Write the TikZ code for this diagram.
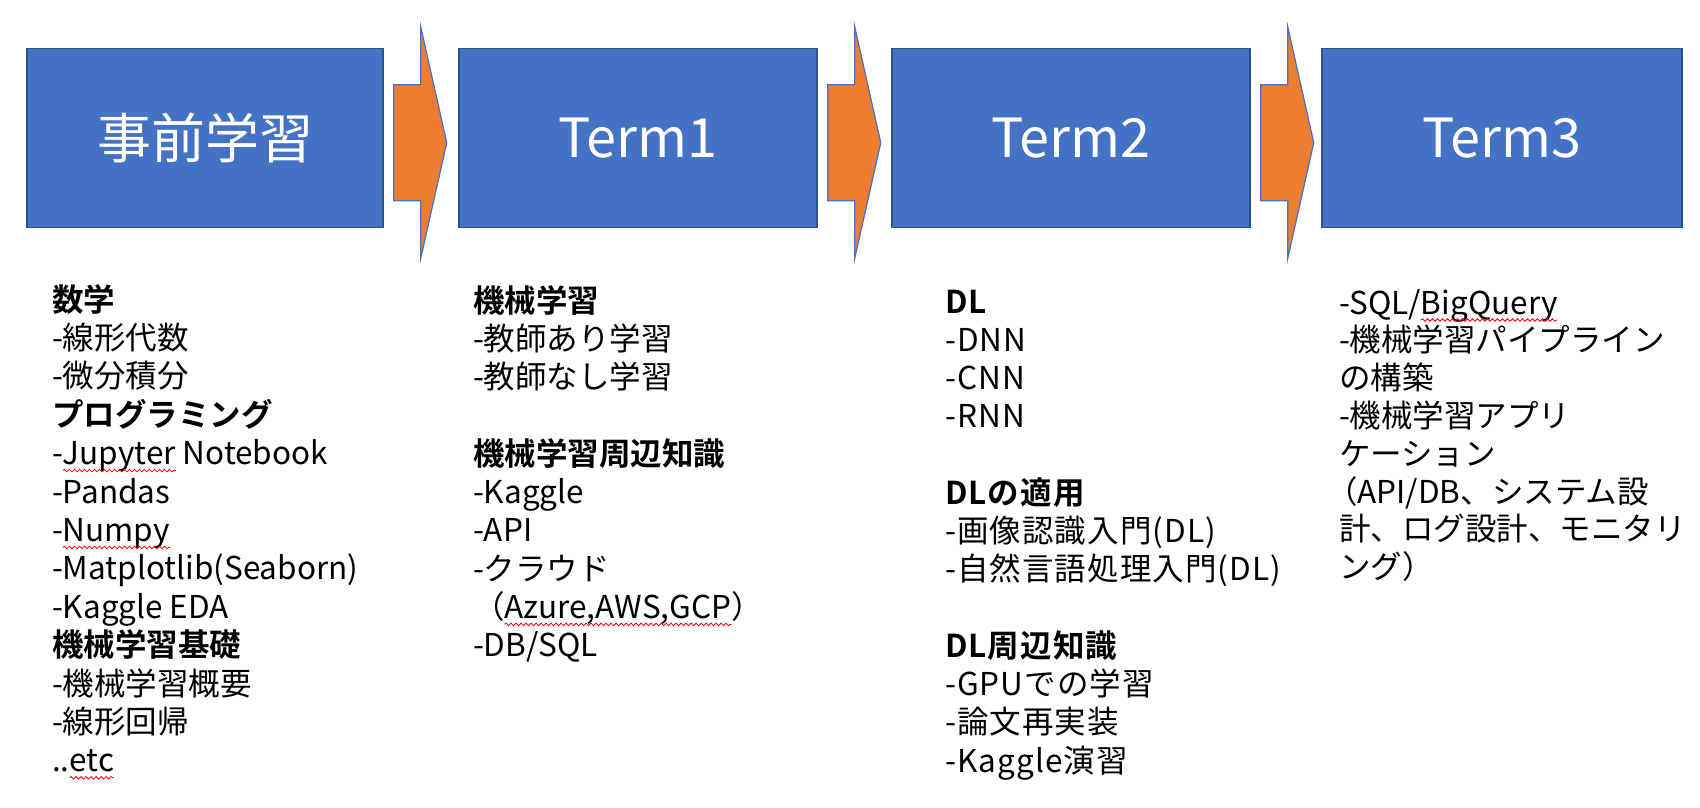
\documentclass[tikz,border=0pt]{standalone}
\usepackage{fontspec}
\setmainfont{Noto Sans CJK JP}[BoldFont={Noto Sans CJK JP Bold}]
\newfontfamily\widejp{Noto Sans CJK JP}[LetterSpace=3.5, BoldFont={Noto Sans CJK JP Bold}]
\usetikzlibrary{decorations.pathmorphing,calc}
\definecolor{boxblue}{HTML}{4472C4}
\definecolor{boxedge}{HTML}{2F528F}
\definecolor{arroworange}{HTML}{ED7D31}
\begin{document}
\begin{tikzpicture}[x=1pt,y=-1pt,
  stagebox/.style={draw=boxedge, line width=1.5pt, fill=boxblue, text=white,
    font=\fontsize{54}{60}\selectfont, inner sep=0pt, minimum height=179pt},
  blockarrow/.style={draw=boxblue, line width=1.2pt, fill=arroworange, line join=miter},
  pics/stagearrow/.style={code={
    \draw[blockarrow] (0,-58) -- (27,-58) -- (27,-116) -- (53,0) -- (27,115.5) -- (27,58) -- (0,58) -- cycle;}},
  ln/.style={anchor=base west, inner sep=0pt, outer sep=0pt, font=\fontsize{31.5}{36}\selectfont},
  hd/.style={ln, font=\fontsize{31.5}{36}\selectfont\bfseries},
  wln/.style={ln, font=\widejp\fontsize{31.5}{36}\selectfont},
  whd/.style={ln, font=\widejp\fontsize{31.5}{36}\selectfont\bfseries},
  squig/.style={draw=red, line width=0.8pt, decorate,
    decoration={snake, amplitude=1.3pt, segment length=5pt}}
]
\fill[white] (0,0) rectangle (1700,808);
\useasboundingbox (0,0) rectangle (1700,808);

% stage boxes
\node[stagebox, minimum width=356pt] (b1) at (205,137.8) {事前学習};
\node[stagebox, minimum width=358pt] (b2) at (638,137.8) {Term1};
\node[stagebox, minimum width=358pt] (b3) at (1071,137.8) {Term2};
\node[stagebox, minimum width=360pt] (b4) at (1502,137.8) {Term3};

% block arrows
\pic at ($(b1.east)+(10,5)$) {stagearrow};
\pic at ($(b2.east)+(10,5)$) {stagearrow};
\pic at ($(b3.east)+(10,5)$) {stagearrow};

% column 1
\node[hd] (a0) at (52,{311+38.4*0}) {数学};
\node[ln] (a1) at (52,{311+38.4*1}) {-線形代数};
\node[ln] (a2) at (52,{311+38.4*2}) {-微分積分};
\node[hd] (a3) at (52,{311+38.4*3}) {プログラミング};
\node[ln] (a4) at (52,{311+38.4*4}) {-};
\node[ln] (a4b) at (a4.base east) {Jupyter};
\node[ln] (a4c) at (a4b.base east) {\ Notebook};
\node[ln] (a5) at (52,{311+38.4*5}) {-Pandas};
\node[ln] (a6) at (52,{311+38.4*6}) {-};
\node[ln] (a6b) at (a6.base east) {Numpy};
\node[ln] (a7) at (52,{311+38.4*7}) {-Matplotlib(Seaborn)};
\node[ln] (a8) at (52,{311+38.4*8}) {-Kaggle EDA};
\node[hd] (a9) at (52,{311+38.4*9}) {機械学習基礎};
\node[ln] (a10) at (52,{311+38.4*10}) {-機械学習概要};
\node[ln] (a11) at (52,{311+38.4*11}) {-線形回帰};
\node[ln] (a12) at (52,{311+38.4*12}) {..};
\node[ln] (a12b) at (a12.base east) {etc};

% column 2
\node[hd] (m0) at (473,{312+38.3*0}) {機械学習};
\node[ln] (m1) at (473,{312+38.3*1}) {-教師あり学習};
\node[ln] (m2) at (473,{312+38.3*2}) {-教師なし学習};
\node[hd] (m4) at (473,{312+38.3*4}) {機械学習周辺知識};
\node[ln] (m5) at (473,{312+38.3*5}) {-Kaggle};
\node[ln] (m6) at (473,{312+38.3*6}) {-API};
\node[ln] (m7) at (473,{312+38.3*7}) {-クラウド};
\node[ln] (m8) at (473,{312+38.3*8}) {（};
\node[ln] (m8b) at (m8.base east) {Azure,AWS,GCP};
\node[ln] (m8c) at (m8b.base east) {）};
\node[ln] (m9) at (473,{312+38.3*9}) {-DB/SQL};

% column 3
\node[whd] (d0) at (945,{313+38.25*0}) {DL};
\node[wln] (d1) at (945,{313+38.25*1}) {-DNN};
\node[wln] (d2) at (945,{313+38.25*2}) {-CNN};
\node[wln] (d3) at (945,{313+38.25*3}) {-RNN};
\node[whd] (d5) at (945,{313+38.25*5}) {DLの適用};
\node[wln] (d6) at (945,{313+38.25*6}) {-画像認識入門(DL)};
\node[wln] (d7) at (945,{313+38.25*7}) {-自然言語処理入門(DL)};
\node[whd] (d9) at (945,{313+38.25*9}) {DL周辺知識};
\node[wln] (d10) at (945,{313+38.25*10}) {-GPUでの学習};
\node[wln] (d11) at (945,{313+38.25*11}) {-論文再実装};
\node[wln] (d12) at (945,{313+38.25*12}) {-Kaggle演習};

% column 4
\node[ln] (t0) at (1339,{314+37.8*0}) {-SQL/};
\node[ln] (t0b) at (t0.base east) {BigQuery};
\node[ln] (t1) at (1339,{314+37.8*1}) {-機械学習パイプライン};
\node[ln] (t2) at (1339,{314+37.8*2}) {の構築};
\node[ln] (t3) at (1339,{314+37.8*3}) {-機械学習アプリ};
\node[ln] (t4) at (1339,{314+37.8*4}) {ケーション};
\node[ln] (t5) at (1326,{314+37.8*5}) {（API/DB、システム設};
\node[ln] (t6) at (1339,{314+37.8*6}) {計、ログ設計、モニタリ};
\node[ln] (t7) at (1339,{314+37.8*7}) {ング）};

% spell-check squiggles
\draw[squig] ([yshift=-6pt]a4b.base west) -- ([yshift=-6pt]a4b.base east);
\draw[squig] ([yshift=-6pt]a6b.base west) -- ([yshift=-6pt]a6b.base east);
\draw[squig] ([yshift=-6pt]a12b.base west) -- ([yshift=-6pt]a12b.base east);
\draw[squig] ([yshift=-6pt]m8b.base west) -- ([yshift=-6pt]m8b.base east);
\draw[squig] ([yshift=-6pt]t0b.base west) -- ([yshift=-6pt]t0b.base east);
\end{tikzpicture}
\end{document}
